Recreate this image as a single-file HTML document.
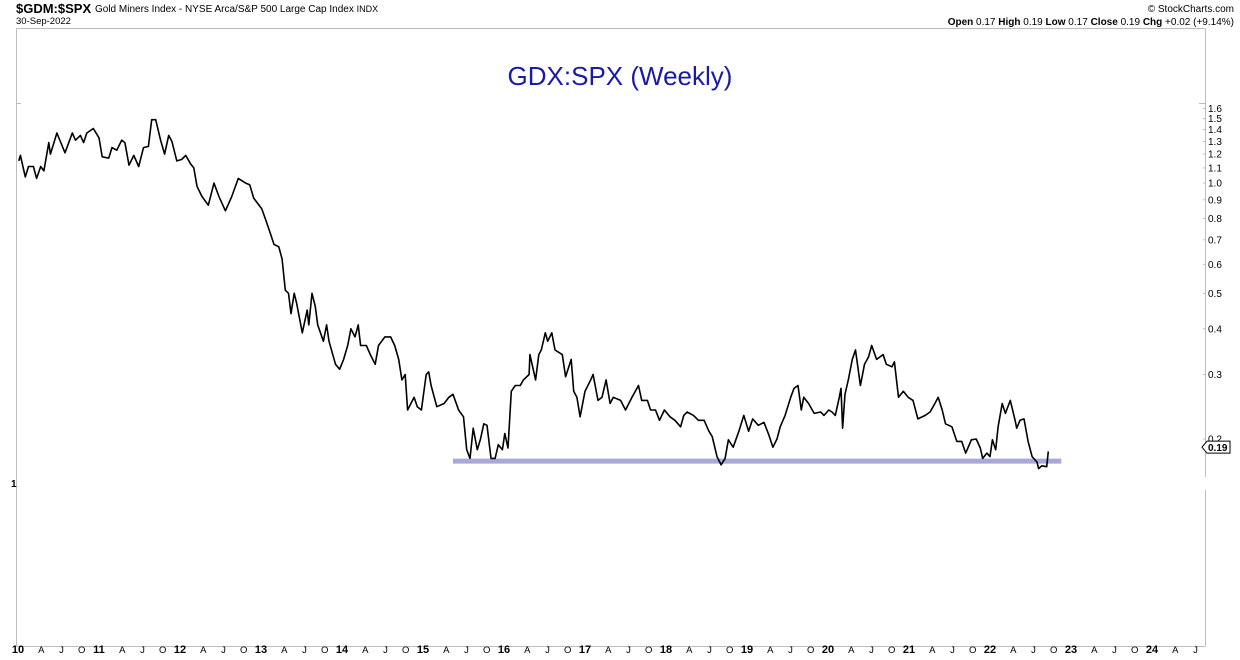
<!DOCTYPE html>
<html><head><meta charset="utf-8">
<style>
html,body{margin:0;padding:0;background:#fff;}
body{width:1240px;height:655px;overflow:hidden;font-family:"Liberation Sans",Arial,sans-serif;}
svg text{font-family:"Liberation Sans",Arial,sans-serif;}
</style></head>
<body>
<svg id="chart" width="1240" height="655" viewBox="0 0 1240 655" xmlns="http://www.w3.org/2000/svg">
  <text x="16" y="13" font-size="13" font-weight="bold" fill="#000">$GDM:$SPX</text>
  <text x="95" y="12" font-size="10" fill="#000">Gold Miners Index - NYSE Arca/S&amp;P 500 Large Cap Index <tspan font-size="9">INDX</tspan></text>
  <text x="16" y="24" font-size="9.5" fill="#000">30-Sep-2022</text>
  <text x="1234" y="12" font-size="10" fill="#000" text-anchor="end">© StockCharts.com</text>
  <text x="1234" y="25" font-size="10" fill="#000" text-anchor="end"><tspan font-weight="bold">Open</tspan> 0.17 <tspan font-weight="bold">High</tspan> 0.19 <tspan font-weight="bold">Low</tspan> 0.17 <tspan font-weight="bold">Close</tspan> 0.19 <tspan font-weight="bold">Chg</tspan> +0.02 (+9.14%)</text>
  <text x="620" y="85" font-size="26" fill="#1a1aa8" text-anchor="middle">GDX:SPX (Weekly)</text>
  <g id="frame" stroke="#bdbdbd" stroke-width="1" fill="none">
    <line x1="16.5" y1="28.5" x2="1205.5" y2="28.5"/>
    <line x1="16.5" y1="28.5" x2="16.5" y2="646.5"/>
    <line x1="16.5" y1="646.5" x2="1205.5" y2="646.5"/>
    <line x1="1205.5" y1="28.5" x2="1205.5" y2="477"/>
    <line x1="1205.5" y1="490" x2="1205.5" y2="646.5"/>
    <line x1="16" y1="103.5" x2="21" y2="103.5"/>
    <line x1="1199" y1="103.5" x2="1205" y2="103.5"/>
  </g>
  <text x="11" y="487" font-size="10" font-weight="bold">1</text>
  <g id="yaxis"></g>
  <g id="xaxis"></g>
  <g id="support"></g>
  <g id="series"></g>
  <g id="lastval"></g>
</svg>
<script>
const dates = [2010.01,2010.03,2010.09,2010.13,2010.19,2010.23,2010.28,2010.32,2010.38,2010.40,2010.48,2010.58,2010.67,2010.71,2010.77,2010.81,2010.85,2010.93,2011.00,2011.04,2011.12,2011.16,2011.22,2011.28,2011.32,2011.37,2011.43,2011.49,2011.55,2011.61,2011.65,2011.70,2011.76,2011.81,2011.86,2011.90,2011.96,2012.02,2012.07,2012.13,2012.17,2012.21,2012.27,2012.35,2012.42,2012.48,2012.56,2012.64,2012.72,2012.81,2012.86,2012.91,2013.01,2013.07,2013.16,2013.22,2013.26,2013.30,2013.34,2013.37,2013.41,2013.44,2013.51,2013.57,2013.59,2013.63,2013.67,2013.70,2013.77,2013.81,2013.84,2013.92,2013.97,2014.02,2014.07,2014.11,2014.16,2014.20,2014.23,2014.30,2014.35,2014.41,2014.45,2014.53,2014.60,2014.65,2014.70,2014.74,2014.78,2014.81,2014.89,2014.93,2014.98,2015.04,2015.07,2015.10,2015.17,2015.26,2015.32,2015.37,2015.44,2015.50,2015.54,2015.58,2015.62,2015.67,2015.71,2015.75,2015.79,2015.84,2015.89,2015.93,2015.98,2016.01,2016.05,2016.09,2016.14,2016.20,2016.24,2016.31,2016.32,2016.39,2016.43,2016.46,2016.51,2016.54,2016.59,2016.63,2016.72,2016.76,2016.83,2016.86,2016.90,2016.94,2017.00,2017.07,2017.10,2017.16,2017.21,2017.26,2017.31,2017.35,2017.44,2017.50,2017.58,2017.66,2017.70,2017.77,2017.81,2017.87,2017.92,2017.98,2018.05,2018.11,2018.18,2018.22,2018.26,2018.34,2018.40,2018.47,2018.53,2018.57,2018.63,2018.68,2018.73,2018.77,2018.83,2018.90,2018.96,2019.02,2019.07,2019.14,2019.21,2019.27,2019.32,2019.37,2019.41,2019.47,2019.54,2019.58,2019.63,2019.67,2019.70,2019.76,2019.83,2019.91,2019.95,2020.01,2020.05,2020.09,2020.14,2020.16,2020.18,2020.21,2020.25,2020.30,2020.34,2020.40,2020.45,2020.50,2020.54,2020.60,2020.68,2020.72,2020.79,2020.82,2020.87,2020.93,2020.99,2021.05,2021.11,2021.20,2021.26,2021.32,2021.36,2021.41,2021.45,2021.53,2021.59,2021.65,2021.70,2021.77,2021.83,2021.88,2021.91,2021.96,2022.00,2022.03,2022.07,2022.10,2022.15,2022.19,2022.25,2022.31,2022.33,2022.37,2022.42,2022.47,2022.52,2022.58,2022.60,2022.64,2022.70,2022.72];
const ratios = [1.15,1.19,1.04,1.11,1.11,1.03,1.11,1.08,1.29,1.20,1.37,1.21,1.37,1.31,1.35,1.29,1.37,1.41,1.33,1.18,1.17,1.25,1.23,1.31,1.29,1.12,1.19,1.11,1.25,1.26,1.49,1.49,1.31,1.20,1.35,1.30,1.15,1.16,1.19,1.13,1.10,0.98,0.92,0.87,1.00,0.92,0.84,0.92,1.03,1.00,0.99,0.91,0.85,0.78,0.68,0.67,0.62,0.51,0.50,0.44,0.50,0.47,0.39,0.45,0.41,0.50,0.46,0.41,0.37,0.41,0.37,0.32,0.31,0.33,0.36,0.40,0.38,0.41,0.36,0.36,0.34,0.32,0.36,0.38,0.38,0.36,0.33,0.29,0.30,0.24,0.26,0.245,0.24,0.30,0.305,0.28,0.245,0.25,0.26,0.265,0.24,0.23,0.187,0.177,0.214,0.187,0.20,0.22,0.218,0.177,0.177,0.193,0.187,0.207,0.189,0.27,0.28,0.28,0.29,0.30,0.34,0.29,0.34,0.35,0.39,0.37,0.39,0.35,0.34,0.296,0.33,0.27,0.26,0.23,0.27,0.29,0.30,0.255,0.26,0.29,0.25,0.26,0.255,0.24,0.26,0.28,0.255,0.255,0.24,0.24,0.225,0.24,0.23,0.225,0.216,0.232,0.237,0.232,0.225,0.225,0.21,0.203,0.179,0.17,0.177,0.199,0.19,0.21,0.232,0.21,0.227,0.218,0.222,0.205,0.19,0.20,0.216,0.232,0.26,0.275,0.28,0.24,0.26,0.25,0.235,0.237,0.232,0.24,0.237,0.232,0.26,0.275,0.214,0.265,0.29,0.33,0.35,0.28,0.32,0.335,0.36,0.33,0.34,0.32,0.315,0.325,0.26,0.27,0.26,0.255,0.227,0.232,0.237,0.25,0.26,0.24,0.22,0.216,0.197,0.197,0.183,0.199,0.20,0.189,0.177,0.183,0.179,0.199,0.187,0.216,0.25,0.235,0.255,0.225,0.214,0.225,0.227,0.197,0.179,0.173,0.166,0.169,0.168,0.185];
const yTicks = [1.6,1.5,1.4,1.3,1.2,1.1,1.0,0.9,0.8,0.7,0.6,0.5,0.4,0.3,0.2];
const yTickLabels = ["1.6","1.5","1.4","1.3","1.2","1.1","1.0","0.9","0.8","0.7","0.6","0.5","0.4","0.3","0.2"];
const years = [2010,2011,2012,2013,2014,2015,2016,2017,2018,2019,2020,2021,2022,2023,2024];
const monthLabels = ["A","J","O"];
const supportLevel = 0.174;
const supportRange = [2015.37, 2022.88];
const lastValue = 0.19;
const lastLabel = "0.19";

const NS = "http://www.w3.org/2000/svg";
function xScale(t){ return 18 + (t - 2010) * 81; }
function yScale(v){ return 439 - 159 * Math.log(v / 0.2); }
function mk(tag, attrs, parent){ const e = document.createElementNS(NS, tag); for (const k in attrs) e.setAttribute(k, attrs[k]); parent.appendChild(e); return e; }

const yAxis = document.getElementById('yaxis');
yTicks.forEach((v, i) => {
  const y = yScale(v);
  const tk = mk('line', {x1:1203, x2:1206, y1:y, y2:y, stroke:'#bdbdbd'}, yAxis);
  
  
  const t = mk('text', {x:1208, y:y + 3.5, 'font-size':10, fill:'#000'}, yAxis);
  t.textContent = yTickLabels[i];
  
  
});

const xAxis = document.getElementById('xaxis');
years.forEach(yr => {
  const t = mk('text', {x:xScale(yr), y:653, 'font-size':11, 'font-weight':'bold', 'text-anchor':'middle', fill:'#000'}, xAxis);
  t.textContent = String(yr).slice(2);
  
  
  monthLabels.forEach((m, j) => {
    const mx = xScale(yr + (j + 1) * 0.25);
    if (mx > 1200) return;
    const ml = mk('text', {x:mx + 3, y:653, 'font-size':9.5, 'text-anchor':'middle', fill:'#000'}, xAxis);
    ml.textContent = m;
    
    
  });
});

const sup = document.getElementById('support');
const sl = mk('line', {x1:xScale(supportRange[0]), x2:xScale(supportRange[1]), y1:yScale(supportLevel), y2:yScale(supportLevel), stroke:'#a9a9d8', 'stroke-width':5}, sup);



const series = document.getElementById('series');
const pts = dates.map((d, i) => xScale(d).toFixed(1) + ',' + yScale(ratios[i]).toFixed(1)).join(' ');
const pl = mk('polyline', {points:pts, fill:'none', stroke:'#000', 'stroke-width':1.6, 'stroke-linejoin':'round'}, series);



const lv = document.getElementById('lastval');
const ly = yScale(lastValue);
const box = mk('path', {d:`M1202 ${ly} L1207 ${ly-6} L1230 ${ly-6} L1230 ${ly+6} L1207 ${ly+6} Z`, fill:'#fff', stroke:'#000', 'stroke-width':1}, lv);


const lt = mk('text', {x:1208, y:ly + 4, 'font-size':10, 'font-weight':'bold', fill:'#000'}, lv);
lt.textContent = lastLabel;


</script>
</body></html>
